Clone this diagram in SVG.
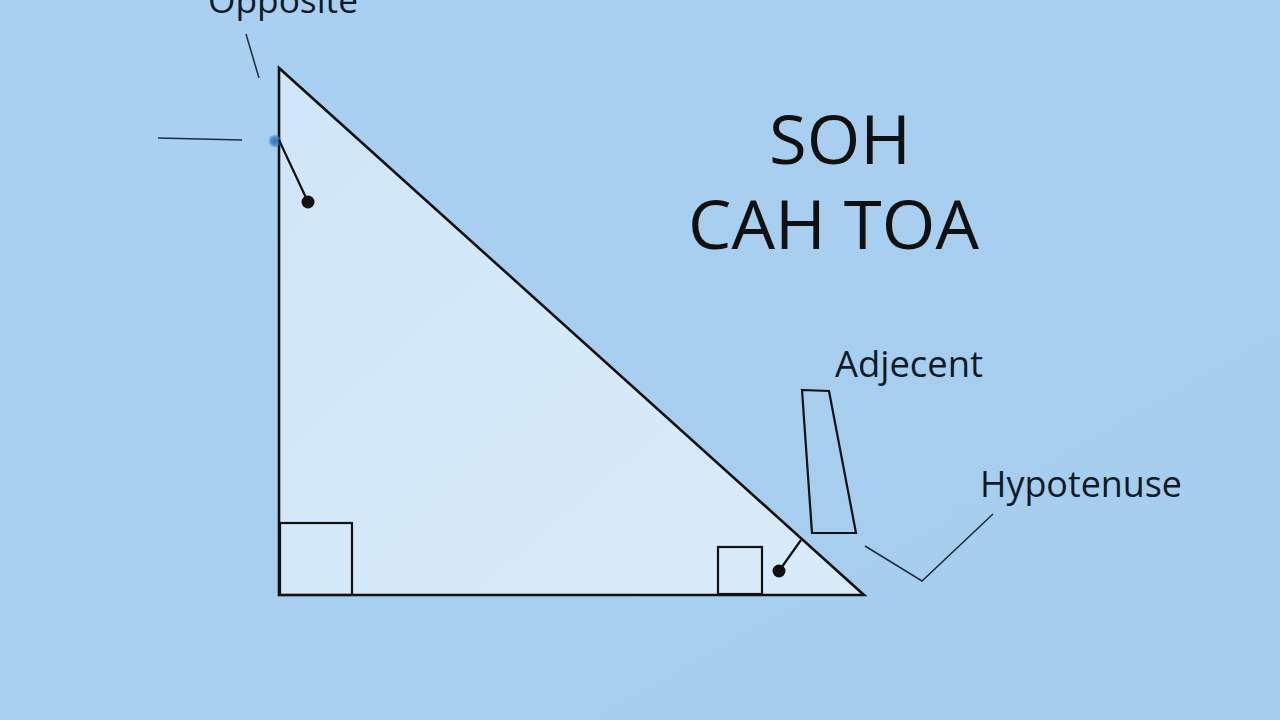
<svg xmlns="http://www.w3.org/2000/svg" width="1280" height="720" viewBox="0 0 1280 720">
<defs>
<linearGradient id="bg" x1="0" y1="0" x2="1" y2="1">
<stop offset="0" stop-color="#a9d0f1"/>
<stop offset="1" stop-color="#a6cdee"/>
</linearGradient>
<linearGradient id="tri" x1="0" y1="0" x2="1" y2="1">
<stop offset="0" stop-color="#d0e6f8"/>
<stop offset="1" stop-color="#d8ebf9"/>
</linearGradient>
<radialGradient id="blob">
<stop offset="0" stop-color="#2f74b8"/>
<stop offset="0.6" stop-color="#3a7fc0" stop-opacity="0.8"/>
<stop offset="1" stop-color="#3a7fc0" stop-opacity="0"/>
</radialGradient>
</defs>
<style>
.ln{fill:none;stroke:#111;stroke-width:2.2;stroke-linejoin:miter}
.thin{fill:none;stroke:#1d2a3a;stroke-width:1.5}
.lbl{font-family:"Open Sans","Noto Sans",sans-serif;fill:#0f1a26}
.big{font-family:"Open Sans","Noto Sans",sans-serif;fill:#101010;font-size:68px}
</style>
<rect width="1280" height="720" fill="url(#bg)"/>
<g id="triangle">
<polygon points="279,68 279,595 864,595" fill="url(#tri)" stroke="#111" stroke-width="2.6"/>
<rect x="280" y="523" width="72" height="72" class="ln"/>
<rect x="718" y="547" width="44" height="47" class="ln"/>
</g>
<g id="markers">
<circle cx="275" cy="141" r="7" fill="url(#blob)"/>
<circle cx="308" cy="202" r="6.5" fill="#111"/>
<circle cx="779" cy="571" r="6.5" fill="#111"/>
<polygon points="802,390 829,391 856,533 812,533" class="ln"/>
</g>
<g id="connectors">
<line x1="279" y1="140" x2="308" y2="202" class="ln" stroke-width="1.7"/>
<line x1="801" y1="540" x2="779" y2="571" class="ln" stroke-width="1.7"/>
<line x1="158" y1="138" x2="242" y2="140" class="thin"/>
<line x1="246" y1="34" x2="259" y2="78" class="thin"/>
<polyline points="865,546 922,581 993,514" class="thin"/>
</g>
<g id="labels">
<text x="208" y="13" class="lbl" font-size="34" textLength="150" lengthAdjust="spacingAndGlyphs">Opposite</text>
<text x="835" y="377" class="lbl" font-size="36" textLength="148" lengthAdjust="spacingAndGlyphs">Adjecent</text>
<text x="980" y="497" class="lbl" font-size="36" textLength="202" lengthAdjust="spacingAndGlyphs">Hypotenuse</text>
<text x="769" y="164" class="big" textLength="142" lengthAdjust="spacingAndGlyphs">SOH</text>
<text x="688" y="249" class="big" textLength="291" lengthAdjust="spacingAndGlyphs">CAH TOA</text>
</g>
</svg>
